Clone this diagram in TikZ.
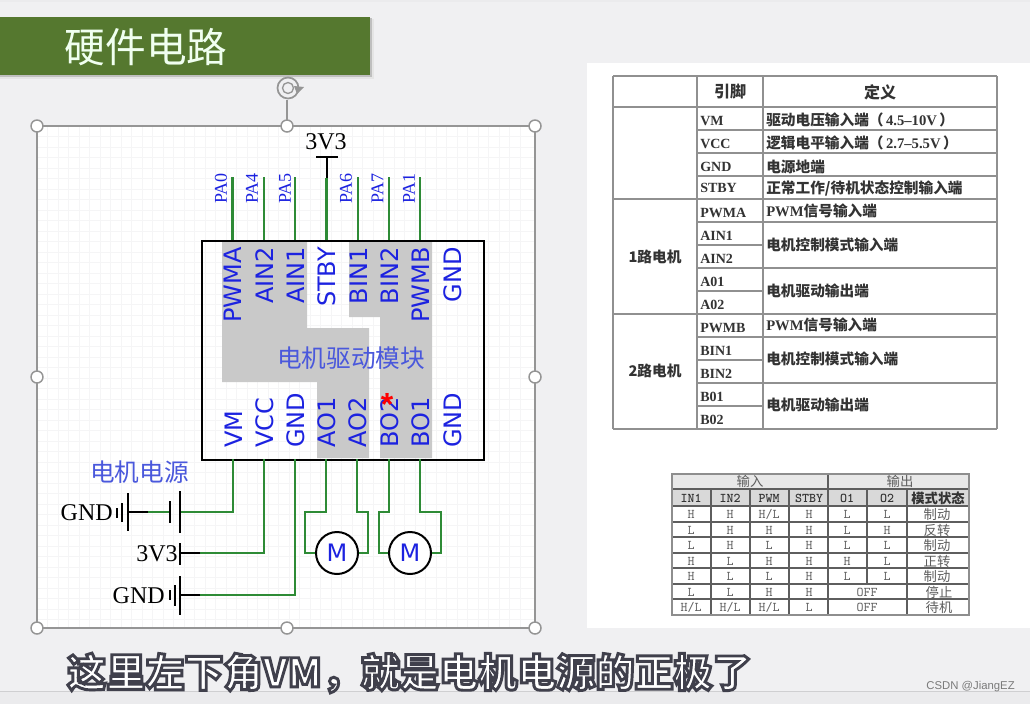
\documentclass[tikz,border=0pt]{standalone}
\usepackage{fontspec}
\setmainfont{Liberation Serif}
\setsansfont{DejaVu Sans}
\newfontfamily\cjk{Noto Sans CJK SC}
\newfontfamily\wmfont{Liberation Sans}
\usetikzlibrary{arrows.meta}
\definecolor{pagebg}{HTML}{F0F0F2}
\definecolor{barbg}{HTML}{EBEBED}
\definecolor{barline}{HTML}{CFCFD1}
\definecolor{titlegreen}{HTML}{55782F}
\definecolor{wiregreen}{HTML}{2E8B36}
\definecolor{pinblue}{HTML}{1C22E0}
\definecolor{softblue}{HTML}{4A58DC}
\definecolor{moduleGrey}{HTML}{C9C9C9}
\definecolor{handlegrey}{HTML}{959595}
\definecolor{gridgrey}{HTML}{F5F5F6}
\definecolor{tlineA}{HTML}{909090}
\definecolor{tlineB}{HTML}{5E5E5E}
\definecolor{ttext}{HTML}{333333}
\tikzset{
  x=0.75pt,y=-0.75pt,
  wire/.style={draw=wiregreen,line width=1.9pt},
  blackwire/.style={draw=black,line width=1.5pt},
  plate/.style={draw=black,line width=1.5pt},
  handle/.style={circle,draw=handlegrey,fill=white,line width=1.1pt,minimum size=9pt,inner sep=0pt},
  pintop/.style={rotate=90,anchor=east,inner sep=0pt,text=pinblue,font=\sffamily\fontsize{18}{18}\selectfont},
  pinbot/.style={rotate=90,anchor=west,inner sep=0pt,text=pinblue,font=\sffamily\fontsize{18}{18}\selectfont},
  palabel/.style={rotate=90,anchor=west,inner sep=0pt,text=pinblue,font=\fontsize{13.5}{13.5}\selectfont},
  netlabel/.style={anchor=east,inner sep=0pt,text=black,font=\fontsize{18}{18}\selectfont},
  motor/.style={circle,draw=black,fill=white,line width=1.5pt,minimum size=31.5pt,inner sep=0pt,text=pinblue,font=\sffamily\fontsize{18}{18}\selectfont},
  tpin/.style={anchor=west,inner sep=0pt,text=ttext,font=\bfseries\fontsize{10.5}{10.5}\selectfont},
  tdef/.style={anchor=west,inner sep=0pt,text=ttext,font=\cjk\bfseries\fontsize{11}{11}\selectfont},
  thead/.style={inner sep=0pt,text=ttext,font=\cjk\bfseries\fontsize{12}{12}\selectfont},
  tline/.style={draw=tlineA,line width=0.8pt},
  mline/.style={draw=tlineB,line width=0.9pt},
  mcell/.style={inner sep=0pt,text=tlineB,font=\ttfamily\fontsize{10}{10}\selectfont},
  mhead/.style={inner sep=0pt,text=ttext,font=\ttfamily\bfseries\fontsize{10}{10}\selectfont},
  mcjk/.style={inner sep=0pt,text=tlineB,font=\cjk\fontsize{10}{10}\selectfont},
  mcjkb/.style={inner sep=0pt,text=ttext,font=\cjk\bfseries\fontsize{10}{10}\selectfont},
}
\begin{document}
\begin{tikzpicture}
\useasboundingbox (0,0) rectangle (1030,704);
\fill[pagebg] (0,0) rectangle (1030,704);
\fill[barbg] (0,0) rectangle (1030,2);
\fill[barbg] (0,691) rectangle (1030,704);
\draw[barline,line width=0.7pt] (0,691) -- (1030,691);
% title
\fill[black!10] (0,19) rectangle (374,79);
\fill[black!25] (0,18) rectangle (372,77);
\fill[titlegreen] (0,17) rectangle (370,75);
\node[inner sep=0pt,text=white!94!green] (title) at (146,47) {\cjk\fontsize{30.5}{30.5}\selectfont 硬件电路};
% canvas
\fill[white] (37,126) rectangle (535,628);
\foreach \gx in {47.5,58,...,530} \draw[gridgrey,line width=0.5pt] (\gx,126) -- (\gx,628);
\foreach \gy in {136.5,147,...,625} \draw[gridgrey,line width=0.5pt] (37,\gy) -- (535,\gy);
\draw[handlegrey,line width=0.8pt] (37,126) rectangle (535,628);
\draw[handlegrey,line width=0.8pt] (287,126) -- (287,100);
\foreach \hn/\hx/\hy in {a/37/126,b/287/126,c/535/126,d/37/377,e/535/377,f/37/628,g/287/628,h/535/628}
  \node[handle] (h\hn) at (\hx,\hy) {};
% rotate handle
\draw[handlegrey,line width=1.3pt] (288,88) circle[radius=10.5];
\draw[handlegrey,line width=1pt] (288,88) circle[radius=5.5];
\fill[handlegrey] (294,86) -- (304,87) -- (297,94) -- cycle;
% module
\fill[moduleGrey] (222,241) -- (307,241) -- (307,328) -- (369,328) -- (369,458) -- (317,458) -- (317,382) -- (222,382) -- cycle;
\fill[moduleGrey] (349,241) -- (432,241) -- (432,458) -- (380,458) -- (380,317) -- (349,317) -- cycle;
\node[draw=black,line width=1.5pt,minimum width=211.5pt,minimum height=164pt,inner sep=0pt,anchor=north west] (module) at (201,240) {};
\node[inner sep=0pt,text=softblue] (modname) at (351,358) {\cjk\fontsize{18.5}{18.5}\selectfont 电机驱动模块};
% pins
\foreach \pn/\px in {pwma/232.5,aintwo/264,ainone/295,stby/326.5,binone/358,bintwo/389,pwmb/420}
  \coordinate (\pn) at (\px,240);
\node[pintop] (lpwma) at (233,247) {PWMA};
\node[pintop] (laintwo) at (265,247) {AIN2};
\node[pintop] (lainone) at (296,247) {AIN1};
\node[pintop] (lstby) at (327,247) {STBY};
\node[pintop] (lbinone) at (359,247) {BIN1};
\node[pintop] (lbintwo) at (390,247) {BIN2};
\node[pintop] (lpwmb) at (421,247) {PWMB};
\node[pintop] (lgndt) at (452.5,247) {GND};
\node[pinbot] (lvm) at (234,448) {VM};
\node[pinbot] (lvcc) at (265,448) {VCC};
\node[pinbot] (lgndl) at (296,448) {GND};
\node[pinbot] (laoone) at (327,448) {AO1};
\node[pinbot] (laotwo) at (358,448) {AO2};
\node[pinbot] (lbotwo) at (390,448) {BO2};
\node[pinbot] (lboone) at (421,448) {BO1};
\node[pinbot] (lgndr) at (452.5,448) {GND};
\node[inner sep=0pt,text=red,font=\wmfont\bfseries\fontsize{24}{24}\selectfont] (star) at (387,404) {*};
% top nets
\foreach \cn/\cx in {ta/232.5,tb/264,tc/295,te/358,tf/389,tg/420}
  \coordinate (\cn) at (\cx,177);
\foreach \cn/\pn in {ta/pwma,tb/aintwo,tc/ainone,te/binone,tf/bintwo,tg/pwmb}
  \draw[wire] (\cn) -- (\pn);
\node[palabel] (pao) at (221,204) {PA0};
\node[palabel] (paf) at (252,204) {PA4};
\node[palabel] (pav) at (285,204) {PA5};
\node[palabel] (pas) at (346,204) {PA6};
\node[palabel] (pan) at (377.5,204) {PA7};
\node[palabel] (pai) at (409,204) {PA1};
\coordinate (vt) at (326.5,157);
\coordinate (vtm) at (326.5,178);
\coordinate (vtl) at (316,157);
\coordinate (vtr) at (337.5,157);
\draw[wire] (vtm) -- (stby);
\draw[blackwire] (vt) -- (vtm);
\draw[plate] (vtl) -- (vtr);
\node[inner sep=0pt,font=\fontsize{18}{18}\selectfont] (vlabel) at (326,142) {3V3};
% bottom pin coordinates
\foreach \pn/\px in {vm/233,vcc/264,gndl/295,aoone/326,aotwo/357,botwo/389,boone/420}
  \coordinate (\pn) at (\px,459);
% battery
\coordinate (batp) at (180,512);
\coordinate (batn) at (170,512);
\coordinate (batg) at (148,512);
\coordinate (gnda) at (128,512);
\draw[wire] (vm) |- (batp);
\draw[wire] (batn) -- (batg);
\draw[blackwire] (batg) -- (gnda);
\draw[plate] (180,491) -- (180,533);
\draw[plate] (170,501) -- (170,523);
\draw[plate] (128,493) -- (128,531);
\draw[plate] (122,503) -- (122,522);
\draw[plate] (117,508) -- (117,518);
\node[netlabel] (ga) at (113,513) {GND};
\node[inner sep=0pt,text=softblue] (batname) at (139.5,472) {\cjk\fontsize{18.5}{18.5}\selectfont 电机电源};
% vcc
\coordinate (vb) at (200,553);
\coordinate (vbe) at (180,553);
\draw[wire] (vcc) |- (vb);
\draw[blackwire] (vb) -- (vbe);
\draw[plate] (180,543) -- (180,565);
\node[netlabel] (vblabel) at (178,554) {3V3};
% gnd
\coordinate (gb) at (200,595);
\coordinate (gbe) at (180,595);
\draw[wire] (gndl) |- (gb);
\draw[blackwire] (gb) -- (gbe);
\draw[plate] (180,576) -- (180,615);
\draw[plate] (175,585) -- (175,606);
\draw[plate] (170,590) -- (170,600);
\node[netlabel] (gblabel) at (165,596) {GND};
% motors
\node[motor] (ma) at (337,553) {M};
\node[motor] (mb) at (410,553) {M};
\coordinate (aol) at (305,512);
\coordinate (aor) at (368,512);
\coordinate (bol) at (379,512);
\coordinate (bor) at (441,512);
\draw[wire] (aoone) |- (aol) |- (ma.west);
\draw[wire] (aotwo) |- (aor) |- (ma.east);
\draw[wire] (botwo) |- (bol) |- (mb.west);
\draw[wire] (boone) |- (bor) |- (mb.east);
% right panel
\fill[white] (587,63) rectangle (1030,628);
% table 1
\foreach \yy/\xa in {76/613,107/613,130/697,153/697,176/697,199/613,222/697,268/697,314/613,337/697,383/697,429/613}
  \draw[tline] (\xa,\yy) -- (997,\yy);
\foreach \yy in {245,291,360,406} \draw[tline] (697,\yy) -- (763,\yy);
\foreach \xx in {613,697,763,997} \draw[tline] (\xx,76) -- (\xx,429);
\node[thead] (hpin) at (730,92) {引脚};
\node[thead] (hdef) at (880,92) {定义};
\foreach \tn/\ty/\lab in {a/121/VM,b/144/VCC,c/167/GND,d/188/STBY,e/213/PWMA,f/236/AIN1,g/259/AIN2,h/282/A01,i/305/A02,j/328/PWMB,k/351/BIN1,l/374/BIN2,m/397/B01,n/420/B02}
  \node[tpin] (pin\tn) at (700,\ty) {\lab};
\foreach \tn/\ty/\lab in {a/120/驱动电压输入端（{\rmfamily\,4.5–10V\,}）,b/143/逻辑电平输入端（{\rmfamily\,2.7–5.5V\,}）,c/167/电源地端,d/188/{正常工作/待机状态控制输入端},e/211/{\rmfamily PWM}信号输入端,f/245/电机控制模式输入端,g/291/电机驱动输出端,h/325/{\rmfamily PWM}信号输入端,i/359/电机控制模式输入端,j/405/电机驱动输出端}
  \node[tdef] (def\tn) at (766,\ty) {\lab};
\node[inner sep=0pt,text=ttext,font=\cjk\bfseries\fontsize{11}{11}\selectfont] (groupa) at (655,257) {1路电机};
\node[inner sep=0pt,text=ttext,font=\cjk\bfseries\fontsize{11}{11}\selectfont] (groupb) at (655,371) {2路电机};
% table 2
\fill[black!9] (672,474) rectangle (969,489);
\fill[black!15] (672,489) rectangle (969,506);
\foreach \yy in {489,506,522,537,553,568,584,599} \draw[mline] (672,\yy) -- (969,\yy);
\foreach \xx in {711,750,789,907} \draw[mline] (\xx,489) -- (\xx,615);
\draw[mline] (867,489) -- (867,584);
\draw[mline] (828,474) -- (828,615);
\draw[tlineB!70,line width=0.9pt] (672,474) rectangle (969,615);
\node[mcjk] (inh) at (750,481) {输入};
\node[mcjk] (outh) at (900,481) {输出};
\foreach \hn/\hx/\hlab in {a/691/IN1,b/730/IN2,c/769/PWM,d/809/STBY,e/847/O1,f/887/O2}
  \node[mhead] (mh\hn) at (\hx,498) {\hlab};
\node[mcjkb] (mhg) at (938,498) {模式状态};
\foreach \rn/\ry/\ra/\rb/\rc/\rd/\re/\rf/\rg in {
  a/514/H/H/{H/L}/H/L/L/制动,
  b/530/L/H/H/H/L/H/反转,
  c/545/L/H/L/H/L/L/制动,
  d/561/H/L/H/H/H/L/正转,
  e/576/H/L/L/H/L/L/制动}{
  \node[mcell] (ca\rn) at (691,\ry) {\ra};
  \node[mcell] (cb\rn) at (730,\ry) {\rb};
  \node[mcell] (cc\rn) at (769,\ry) {\rc};
  \node[mcell] (cd\rn) at (809,\ry) {\rd};
  \node[mcell] (ce\rn) at (847,\ry) {\re};
  \node[mcell] (cf\rn) at (887,\ry) {\rf};
  \node[mcjk] (cg\rn) at (937,\ry) {\rg};
}
\foreach \rn/\ry/\ra/\rb/\rc/\rd/\rg in {
  f/592/L/L/H/H/停止,
  g/607/{H/L}/{H/L}/{H/L}/L/待机}{
  \node[mcell] (ca\rn) at (691,\ry) {\ra};
  \node[mcell] (cb\rn) at (730,\ry) {\rb};
  \node[mcell] (cc\rn) at (769,\ry) {\rc};
  \node[mcell] (cd\rn) at (809,\ry) {\rd};
  \node[mcell] (ce\rn) at (867,\ry) {OFF};
  \node[mcjk] (cg\rn) at (939,\ry) {\rg};
}
% subtitle
\node[inner sep=0pt,anchor=west] (subtitle) at (67,673) {\cjk\bfseries\fontsize{29.3}{29.3}\selectfont\special{pdf:code q 2 Tr 2.2 w 0.25 0.25 0.3 RG 1 1 1 rg}这里左下角VM，就是电机电源的正极了\special{pdf:code Q}};
% watermark
\node[inner sep=0pt,anchor=east,text=black!52,font=\wmfont\fontsize{8.5}{8.5}\selectfont] (wm) at (1015,687) {CSDN @JiangEZ};
\end{tikzpicture}
\end{document}
